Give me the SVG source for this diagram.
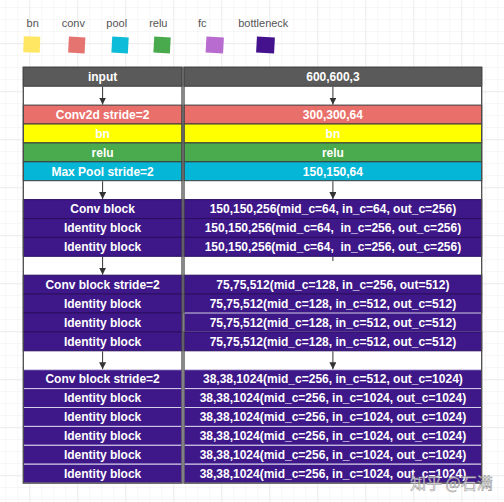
<svg xmlns="http://www.w3.org/2000/svg" width="504" height="502" viewBox="0 0 504 502">
<defs>
<pattern id="gminor" x="5.3" y="7" width="12" height="12" patternUnits="userSpaceOnUse">
<path d="M0 0H12M0 0V12" fill="none" stroke="#efefef" stroke-width="1"/>
</pattern>
<pattern id="gmajor" x="29.3" y="43.3" width="48" height="48" patternUnits="userSpaceOnUse">
<path d="M0 0H48M0 0V48" fill="none" stroke="#e2e2e2" stroke-width="1"/>
</pattern>
<marker id="ah" viewBox="0 0 8 8" refX="8" refY="4" markerWidth="7" markerHeight="7" markerUnits="userSpaceOnUse" orient="auto">
<path d="M0 0L8 4L0 8Z" fill="#333"/>
</marker>
<style>
.lg{font-family:"Liberation Sans",Arial,sans-serif;font-size:11px;fill:#555;text-anchor:middle}
.t{font-family:"Liberation Sans",Arial,sans-serif;font-size:12px;font-weight:bold;fill:#fff;text-anchor:middle}
.row{stroke:#3a3a3a;stroke-width:1}
.gray{fill:#5a5a5a}
.conv{fill:#e96f6b}
.bn{fill:#ffff00}
.relu{fill:#4aaa4e}
.pool{fill:#06b6d6}
.bot{fill:#3e1789;stroke:#2a0e5e}
.bot2{fill:#3e1789;stroke:#d6cfea}
.wh{fill:#fff;stroke:none}
.col{fill:none;stroke:#4a4a4a;stroke-width:1.3}
.arr{stroke:#333;stroke-width:1;fill:none}
</style>
</defs>
<rect width="504" height="502" fill="#fff"/>
<rect width="504" height="502" fill="url(#gminor)"/>
<rect width="504" height="502" fill="url(#gmajor)"/>

<g id="legend">
<text class="lg" x="32.7" y="27">bn</text>
<text class="lg" x="73.3" y="27">conv</text>
<text class="lg" x="116.7" y="27">pool</text>
<text class="lg" x="158.3" y="27">relu</text>
<text class="lg" x="202.3" y="27">fc</text>
<text class="lg" x="263.3" y="27">bottleneck</text>
<rect x="23.5" y="36.5" width="16.5" height="16" fill="#ffe663" transform="rotate(2 31.7 44.5)"/>
<rect x="68.5" y="37" width="16.5" height="16" fill="#e57370" transform="rotate(3 76.7 45)"/>
<rect x="111.8" y="37" width="16.5" height="16" fill="#0dbcd8" transform="rotate(3 120 45)"/>
<rect x="153.8" y="37" width="16.5" height="16" fill="#48aa4c" transform="rotate(3 162 45)"/>
<rect x="206" y="37" width="17.5" height="16" fill="#b96ccf" transform="rotate(3 215 45)"/>
<rect x="256.5" y="37" width="18" height="16" fill="#45128e" transform="rotate(3 265.5 45)"/>
</g>

<g id="left-column">
<rect class="wh" x="23.3" y="67.3" width="158.7" height="415.8"/>
<g id="l-input"><rect class="row gray" x="23.3" y="67.3" width="158.7" height="18.9"/><text class="t" x="102.6" y="81">input</text></g>
<g id="l-conv"><rect class="row conv" x="23.3" y="105.1" width="158.7" height="18.9"/><text class="t" x="102.6" y="118.8">Conv2d stride=2</text></g>
<g id="l-bn"><rect class="row bn" x="23.3" y="124" width="158.7" height="18.9"/><text class="t" x="102.6" y="137.7">bn</text></g>
<g id="l-relu"><rect class="row relu" x="23.3" y="142.9" width="158.7" height="18.9"/><text class="t" x="102.6" y="156.6">relu</text></g>
<g id="l-pool"><rect class="row pool" x="23.3" y="161.8" width="158.7" height="18.9"/><text class="t" x="102.6" y="175.5">Max Pool stride=2</text></g>
<g id="l-s1-0"><rect class="row bot" x="23.3" y="199.6" width="158.7" height="18.9"/><text class="t" x="102.6" y="213.3">Conv block</text></g>
<g id="l-s1-1"><rect class="row bot" x="23.3" y="218.5" width="158.7" height="18.9"/><text class="t" x="102.6" y="232.2">Identity block</text></g>
<g id="l-s1-2"><rect class="row bot" x="23.3" y="237.4" width="158.7" height="18.9"/><text class="t" x="102.6" y="251.1">Identity block</text></g>
<g id="l-s2-0"><rect class="row bot" x="23.3" y="275.2" width="158.7" height="18.9"/><text class="t" x="102.6" y="288.9">Conv block stride=2</text></g>
<g id="l-s2-1"><rect class="row bot" x="23.3" y="294.1" width="158.7" height="18.9"/><text class="t" x="102.6" y="307.8">Identity block</text></g>
<g id="l-s2-2"><rect class="row bot" x="23.3" y="313" width="158.7" height="18.9"/><text class="t" x="102.6" y="326.7">Identity block</text></g>
<g id="l-s2-3"><rect class="row bot" x="23.3" y="331.9" width="158.7" height="18.9"/><text class="t" x="102.6" y="345.6">Identity block</text></g>
<g id="l-s3-0"><rect class="row bot2" x="23.3" y="369.7" width="158.7" height="18.9"/><text class="t" x="102.6" y="383.4">Conv block stride=2</text></g>
<g id="l-s3-1"><rect class="row bot2" x="23.3" y="388.6" width="158.7" height="18.9"/><text class="t" x="102.6" y="402.3">Identity block</text></g>
<g id="l-s3-2"><rect class="row bot2" x="23.3" y="407.5" width="158.7" height="18.9"/><text class="t" x="102.6" y="421.2">Identity block</text></g>
<g id="l-s3-3"><rect class="row bot2" x="23.3" y="426.4" width="158.7" height="18.9"/><text class="t" x="102.6" y="440.1">Identity block</text></g>
<g id="l-s3-4"><rect class="row bot2" x="23.3" y="445.3" width="158.7" height="18.9"/><text class="t" x="102.6" y="459">Identity block</text></g>
<g id="l-s3-5"><rect class="row bot2" x="23.3" y="464.2" width="158.7" height="18.9"/><text class="t" x="102.6" y="477.9">Identity block</text></g>
<rect class="col" x="23.3" y="67.3" width="158.7" height="415.8"/>
</g>

<g id="right-column">
<rect class="wh" x="184" y="67.3" width="297.7" height="415.8"/>
<g id="r-input"><rect class="row gray" x="184" y="67.3" width="297.7" height="18.9"/><text class="t" x="332.9" y="81">600,600,3</text></g>
<g id="r-conv"><rect class="row conv" x="184" y="105.1" width="297.7" height="18.9"/><text class="t" x="332.9" y="118.8">300,300,64</text></g>
<g id="r-bn"><rect class="row bn" x="184" y="124" width="297.7" height="18.9"/><text class="t" x="332.9" y="137.7">bn</text></g>
<g id="r-relu"><rect class="row relu" x="184" y="142.9" width="297.7" height="18.9"/><text class="t" x="332.9" y="156.6">relu</text></g>
<g id="r-pool"><rect class="row pool" x="184" y="161.8" width="297.7" height="18.9"/><text class="t" x="332.9" y="175.5">150,150,64</text></g>
<g id="r-s1-0"><rect class="row bot" x="184" y="199.6" width="297.7" height="18.9"/><text class="t" x="332.9" y="213.3">150,150,256(mid_c=64, in_c=64, out_c=256)</text></g>
<g id="r-s1-1"><rect class="row bot" x="184" y="218.5" width="297.7" height="18.9"/><text class="t" x="332.9" y="232.2" xml:space="preserve">150,150,256(mid_c=64,  in_c=256, out_c=256)</text></g>
<g id="r-s1-2"><rect class="row bot" x="184" y="237.4" width="297.7" height="18.9"/><text class="t" x="332.9" y="251.1" xml:space="preserve">150,150,256(mid_c=64,  in_c=256, out_c=256)</text></g>
<g id="r-s2-0"><rect class="row bot" x="184" y="275.2" width="297.7" height="18.9"/><text class="t" x="332.9" y="288.9">75,75,512(mid_c=128, in_c=256, out=512)</text></g>
<g id="r-s2-1"><rect class="row bot" x="184" y="294.1" width="297.7" height="18.9"/><text class="t" x="332.9" y="307.8">75,75,512(mid_c=128, in_c=512, out_c=512)</text></g>
<g id="r-s2-2"><rect class="row bot2" x="184" y="313" width="297.7" height="18.9"/><text class="t" x="332.9" y="326.7">75,75,512(mid_c=128, in_c=512, out_c=512)</text></g>
<g id="r-s2-3"><rect class="row bot" x="184" y="331.9" width="297.7" height="18.9"/><text class="t" x="332.9" y="345.6">75,75,512(mid_c=128, in_c=512, out_c=512)</text></g>
<g id="r-s3-0"><rect class="row bot2" x="184" y="369.7" width="297.7" height="18.9"/><text class="t" x="332.9" y="383.4">38,38,1024(mid_c=256, in_c=512, out_c=1024)</text></g>
<g id="r-s3-1"><rect class="row bot2" x="184" y="388.6" width="297.7" height="18.9"/><text class="t" x="332.9" y="402.3">38,38,1024(mid_c=256, in_c=1024, out_c=1024)</text></g>
<g id="r-s3-2"><rect class="row bot2" x="184" y="407.5" width="297.7" height="18.9"/><text class="t" x="332.9" y="421.2">38,38,1024(mid_c=256, in_c=1024, out_c=1024)</text></g>
<g id="r-s3-3"><rect class="row bot2" x="184" y="426.4" width="297.7" height="18.9"/><text class="t" x="332.9" y="440.1">38,38,1024(mid_c=256, in_c=1024, out_c=1024)</text></g>
<g id="r-s3-4"><rect class="row bot2" x="184" y="445.3" width="297.7" height="18.9"/><text class="t" x="332.9" y="459">38,38,1024(mid_c=256, in_c=1024, out_c=1024)</text></g>
<g id="r-s3-5"><rect class="row bot2" x="184" y="464.2" width="297.7" height="18.9"/><text class="t" x="332.9" y="477.9">38,38,1024(mid_c=256, in_c=1024, out_c=1024)</text></g>
<rect class="col" x="184" y="67.3" width="297.7" height="415.8"/>
</g>

<g id="connectors">
<line class="arr" x1="102.6" y1="86.8" x2="102.6" y2="104.6" marker-end="url(#ah)"/>
<line class="arr" x1="102.6" y1="181.3" x2="102.6" y2="199.1" marker-end="url(#ah)"/>
<line class="arr" x1="102.6" y1="256.9" x2="102.6" y2="274.7" marker-end="url(#ah)"/>
<line class="arr" x1="102.6" y1="351.4" x2="102.6" y2="369.2" marker-end="url(#ah)"/>
<line class="arr" x1="332.9" y1="86.8" x2="332.9" y2="104.6" marker-end="url(#ah)"/>
<line class="arr" x1="332.9" y1="181.3" x2="332.9" y2="199.1" marker-end="url(#ah)"/>
<line class="arr" x1="332.9" y1="256.9" x2="332.9" y2="261"/>
<line class="arr" x1="332.9" y1="351.4" x2="332.9" y2="369.2" marker-end="url(#ah)"/>
</g>

<text x="410" y="489" font-family="'Noto Sans CJK SC',sans-serif" font-size="16" fill="#ffffff" fill-opacity="0.75" stroke="#8a8a8a" stroke-width="0.5">知乎 @石满</text>
</svg>
